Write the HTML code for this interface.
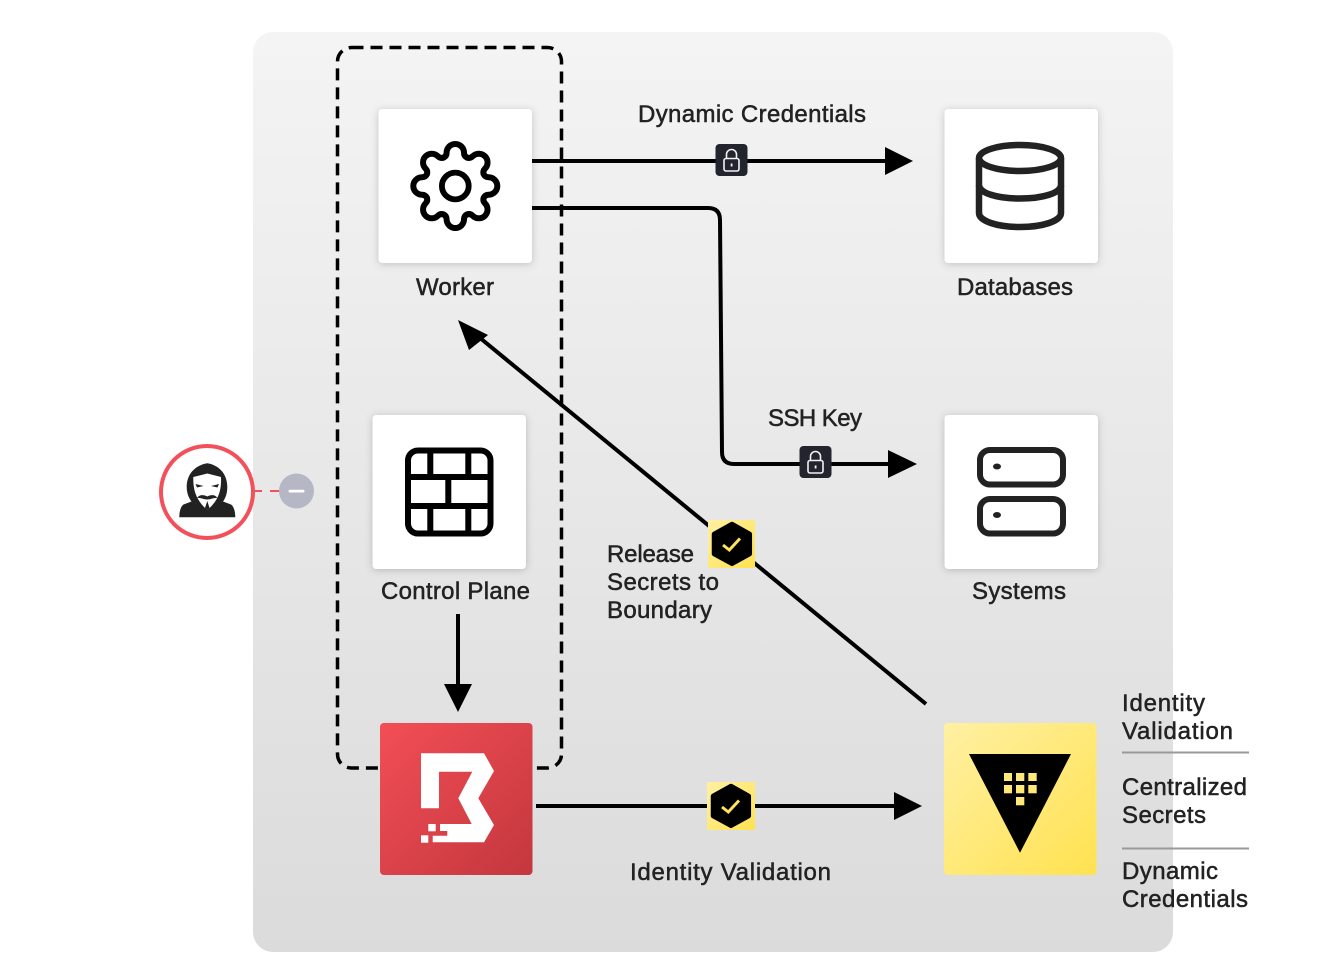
<!DOCTYPE html>
<html><head><meta charset="utf-8"><style>
html,body{margin:0;padding:0;background:#fff}
svg{display:block}
text{font-family:"Liberation Sans",sans-serif;font-size:24px;fill:#222;stroke:#222;stroke-width:.5px}
</style></head><body>
<svg width="1344" height="960" viewBox="0 0 1344 960" xmlns="http://www.w3.org/2000/svg">
<defs>
<linearGradient id="bg" x1="0" y1="0" x2="0" y2="1"><stop offset="0" stop-color="#f4f4f4"/><stop offset="1" stop-color="#dbdbdb"/></linearGradient>
<linearGradient id="red" x1="0" y1="0" x2="1" y2="1"><stop offset="0" stop-color="#f34e56"/><stop offset="1" stop-color="#c3373d"/></linearGradient>
<linearGradient id="yel" x1="0" y1="0" x2="1" y2="1"><stop offset="0" stop-color="#fff0a3"/><stop offset="1" stop-color="#ffe250"/></linearGradient>
<filter id="sh" x="-15%" y="-15%" width="130%" height="130%"><feDropShadow dx="0" dy="1" stdDeviation="4" flood-color="#000" flood-opacity=".2"/></filter>
<path id="tooth" d="M-11.8 -28.400Q-8.700 -29.800 -8.700 -33.300A8.700 8.700 0 0 1 8.700 -33.300Q8.700 -29.800 11.800 -28.400" fill="none" stroke="#000" stroke-width="6" stroke-linecap="round"/>
</defs>

<rect x="253" y="32" width="920" height="920" rx="20" fill="url(#bg)"/>

<rect x="337.500" y="47.500" width="224" height="720.500" rx="14" fill="none" stroke="#000" stroke-width="3.500" stroke-dasharray="12 7"/>

<!-- connectors -->
<g fill="none" stroke="#000" stroke-width="4">
<path d="M532 161H888"/>
<path d="M532 208H708Q720 208 720 220L722 452Q722 464 734 464H890"/>
<path d="M926 704L474 333"/>
<path d="M458 614V686"/>
<path d="M536 806H896"/>
</g>
<g fill="#000">
<path d="M885 147L913 161L885 175Z"/>
<path d="M888 450L917 464L888 478Z"/>
<path d="M458 320L488 335L469 350Z"/>
<path d="M444 684H472L458 712Z"/>
<path d="M894 792L922 806L894 820Z"/>
</g>

<!-- cards -->
<g fill="#fff" filter="url(#sh)">
<rect x="378.500" y="109" width="153.500" height="154" rx="4"/>
<rect x="372.500" y="415" width="153.500" height="154" rx="4"/>
<rect x="944.500" y="109" width="153.500" height="154" rx="4"/>
<rect x="944.500" y="415" width="153.500" height="154" rx="4"/>
</g>

<!-- gear -->
<g transform="translate(455.300 186)">
<use href="#tooth"/><use href="#tooth" transform="rotate(45)"/><use href="#tooth" transform="rotate(90)"/><use href="#tooth" transform="rotate(135)"/><use href="#tooth" transform="rotate(180)"/><use href="#tooth" transform="rotate(225)"/><use href="#tooth" transform="rotate(270)"/><use href="#tooth" transform="rotate(315)"/>
<circle r="13.400" fill="none" stroke="#000" stroke-width="5.800"/>
</g>

<!-- firewall -->
<g fill="none" stroke="#000" stroke-width="6">
<rect x="408" y="450.500" width="82.500" height="83" rx="10"/>
<path d="M408 477H490M408 506H490M430.300 450V477M468.300 450V477M448.300 477V506M430.300 506V533M468.300 506V533"/>
</g>

<!-- database -->
<g fill="none" stroke="#222" stroke-width="6.500">
<ellipse cx="1020" cy="158" rx="41" ry="13"/>
<path d="M979 158V213C979 221 997 227 1020 227C1043 227 1061 221 1061 213V158"/>
<path d="M979 185C979 193 997 198.500 1020 198.500C1043 198.500 1061 193 1061 185"/>
</g>

<!-- systems -->
<g fill="none" stroke="#222" stroke-width="6">
<rect x="980" y="450" width="83" height="34.500" rx="10"/>
<rect x="980" y="499" width="83" height="34.500" rx="10"/>
</g>
<ellipse cx="997" cy="466.500" rx="4" ry="3" fill="#222"/>
<ellipse cx="997" cy="515" rx="4" ry="3" fill="#222"/>

<!-- boundary -->
<rect x="380" y="723" width="152.500" height="152" rx="4" fill="url(#red)"/>
<path fill="#fff" d="M421 753.300H484L494 771L478.300 798.300L494 825L484 842.300H432.700V835.700H447.300V831H440V824H471.700L458.300 798.300L472.300 771.700H439V808.300H421Z"/>
<rect x="428.300" y="824" width="7.400" height="7.300" fill="#fff"/>
<rect x="421" y="835.300" width="7.300" height="7.400" fill="#fff"/>

<!-- vault -->
<rect x="944" y="723" width="152.500" height="152" rx="4" fill="url(#yel)"/>
<path d="M969 754H1071L1020 852.700Z" fill="#000"/>
<g fill="#ffe77a">
<rect x="1004" y="773" width="8" height="8"/><rect x="1016" y="773" width="8.300" height="8"/><rect x="1028.300" y="773" width="8.400" height="8"/>
<rect x="1004" y="785" width="8" height="8.300"/><rect x="1016" y="785" width="8.300" height="8.300"/><rect x="1028.300" y="785" width="8.400" height="8.300"/>
<rect x="1016" y="797" width="8.300" height="8.300"/>
</g>

<!-- locks -->
<g>
<rect x="715.500" y="144" width="32" height="32" rx="4" fill="#22242e"/>
<rect x="724" y="158.500" width="15" height="12.500" rx="2" fill="none" stroke="#f2f2f2" stroke-width="1.600"/>
<path d="M726.500 158.500V154.500a5 5 0 0 1 10 0V158.500" fill="none" stroke="#f2f2f2" stroke-width="1.600"/>
<rect x="730.700" y="163.500" width="1.800" height="3" fill="#f2f2f2"/>
</g>
<g transform="translate(84 302)">
<rect x="715.500" y="144" width="32" height="32" rx="4" fill="#22242e"/>
<rect x="724" y="158.500" width="15" height="12.500" rx="2" fill="none" stroke="#f2f2f2" stroke-width="1.600"/>
<path d="M726.500 158.500V154.500a5 5 0 0 1 10 0V158.500" fill="none" stroke="#f2f2f2" stroke-width="1.600"/>
<rect x="730.700" y="163.500" width="1.800" height="3" fill="#f2f2f2"/>
</g>

<!-- badges -->
<g>
<rect x="708" y="520" width="47" height="48" fill="url(#yel)"/>
<path d="M732 524L749.800 534V554L732 563.800L714 554V534Z" fill="#000" stroke="#000" stroke-width="4.500" stroke-linejoin="round"/>
<path d="M723 545L729.300 550L740 538.500" fill="none" stroke="#ffe35c" stroke-width="3"/>
</g>
<g>
<rect x="707" y="782" width="48" height="48" fill="url(#yel)"/>
<path d="M731 786L748.800 796V816L731 825.800L713 816V796Z" fill="#000" stroke="#000" stroke-width="4.500" stroke-linejoin="round"/>
<path d="M722 807L728.300 812L739 800.500" fill="none" stroke="#ffe35c" stroke-width="3"/>
</g>

<!-- attacker -->
<path d="M254 491H262M270 491H280" stroke="#f2505a" stroke-width="2" fill="none"/>
<circle cx="207" cy="492" r="46" fill="#fff" stroke="#f2505a" stroke-width="4"/>
<circle cx="296.500" cy="491" r="17.500" fill="#b5b7c5"/>
<rect x="288.500" y="489.700" width="16" height="2.800" rx="1.400" fill="#fff"/>
<path fill="#222" d="M207.300 463.300C218 465 227.300 473 227.300 487C227.300 494 225 499 223 501.500L231 504.500C233.500 506 235.300 511 235.300 517.300H179.300C179.300 511 181 506 183.500 504.500L191.500 501.500C189.500 499 186.700 494 186.700 487C186.700 473 196.500 465 207.300 463.300Z"/>
<path fill="#fff" d="M193.300 477C198 476 203 474.500 207.300 473.500C212 474.500 216.500 476 221 477C221.500 490 219 500 207.300 510C196 500 193 490 193.300 477Z"/>
<path fill="#222" d="M195.500 484L203.500 486L197 487.500ZM219 484L211 486L217.500 487.500ZM197 498C200 494 204 495 207.300 496.500C210.500 495 214.500 494 217.500 498C214 497.500 211 499.500 207.300 499.500C203.500 499.500 200.500 497.500 197 498ZM207.300 501L209.500 508L207.300 510L205 508Z"/>

<!-- labels -->
<text x="638" y="122" textLength="228">Dynamic Credentials</text>
<text x="416" y="295" textLength="78">Worker</text>
<text x="957" y="295" textLength="116">Databases</text>
<text x="768" y="426" textLength="94">SSH Key</text>
<text x="381" y="599" textLength="149">Control Plane</text>
<text x="972" y="599" textLength="94">Systems</text>
<text x="607" y="562" textLength="87">Release</text>
<text x="607" y="590" textLength="112">Secrets to</text>
<text x="607" y="618" textLength="105">Boundary</text>
<text x="630" y="880" textLength="201">Identity Validation</text>
<text x="1122" y="711" textLength="83">Identity</text>
<text x="1122" y="739" textLength="111">Validation</text>
<text x="1122" y="795" textLength="125">Centralized</text>
<text x="1122" y="823" textLength="84">Secrets</text>
<text x="1122" y="879" textLength="96">Dynamic</text>
<text x="1122" y="907" textLength="126">Credentials</text>
<path d="M1122 752.500H1249M1122 848.500H1249" stroke="#999" stroke-width="2" fill="none"/>
</svg>
</body></html>
